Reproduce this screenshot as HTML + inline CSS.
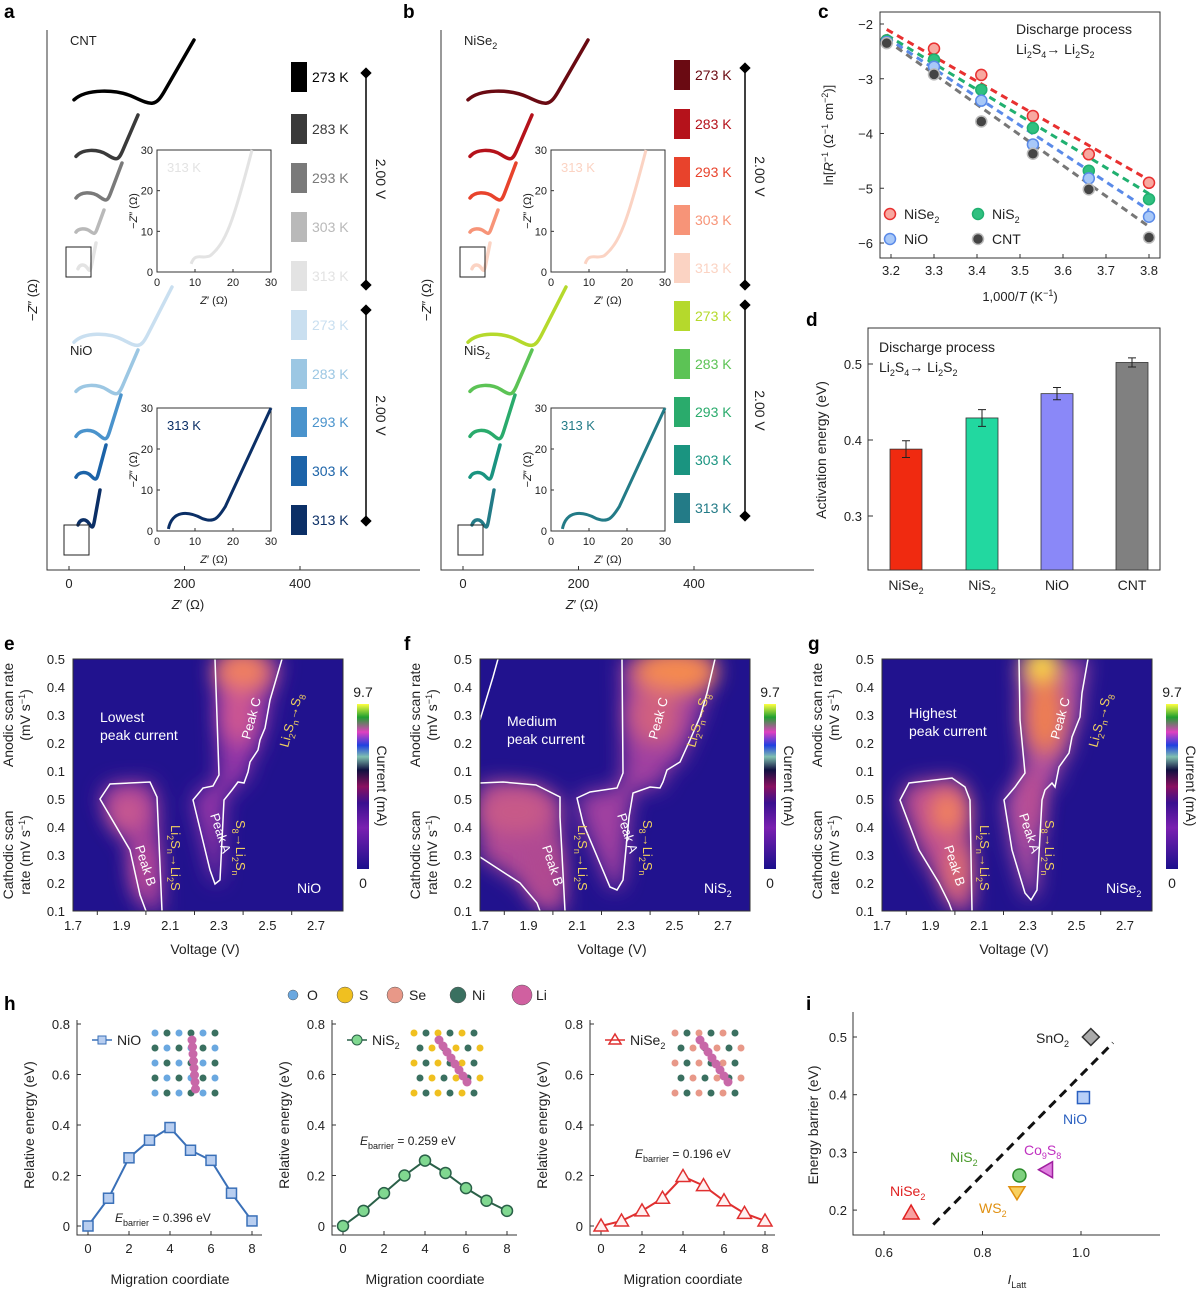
<!DOCTYPE html>
<html><head><meta charset="utf-8"><style>
body{margin:0;background:#fff}
svg{font-family:"Liberation Sans",sans-serif;display:block}
text{fill:#222}
.t{font-size:13px}
.s{font-size:11px}
.L{font-size:19px;font-weight:bold;fill:#000}
.ax{stroke:#333;stroke-width:1;fill:none}
</style></head><body>
<svg id="fig" width="1200" height="1292" viewBox="0 0 1200 1292">
<defs>
<filter id="bl" x="-50%" y="-50%" width="200%" height="200%"><feGaussianBlur stdDeviation="10"/></filter>
<filter id="bl2" x="-50%" y="-50%" width="200%" height="200%"><feGaussianBlur stdDeviation="5"/></filter>
<clipPath id="ce"><rect x="73" y="659" width="270" height="252"/></clipPath>
<clipPath id="cf"><rect x="480" y="659" width="270" height="252"/></clipPath>
<clipPath id="cg"><rect x="882" y="659" width="270" height="252"/></clipPath>
<linearGradient id="cb" x1="0" y1="1" x2="0" y2="0">
<stop offset="0" stop-color="#1a0f8c"/><stop offset="0.25" stop-color="#7a20b0"/><stop offset="0.4" stop-color="#3a1090"/><stop offset="0.5" stop-color="#8a1060"/><stop offset="0.6" stop-color="#101040"/><stop offset="0.68" stop-color="#80c0b0"/><stop offset="0.75" stop-color="#2040e0"/><stop offset="0.83" stop-color="#e040c0"/><stop offset="0.92" stop-color="#20a030"/><stop offset="1" stop-color="#ffff40"/></linearGradient>
</defs>
<g id="root"></g>
</svg>
<script>
// ---------- data ----------
const temps=["273 K","283 K","293 K","303 K","313 K"];
const cVals=[3.19,3.3,3.41,3.53,3.66,3.8];
const cNiSe2=[-2.3,-2.45,-2.93,-3.68,-4.38,-4.9];
const cNiS2=[-2.3,-2.65,-3.2,-3.9,-4.68,-5.2];
const cNiO=[-2.33,-2.78,-3.4,-4.2,-4.82,-5.52];
const cCNT=[-2.35,-2.92,-3.78,-4.37,-5.02,-5.9];
const cFitStart=[-2.1,-2.2,-2.25,-2.3];
const cFitEnd=[-4.85,-5.1,-5.4,-5.7];
const dCats=["NiSe2","NiS2","NiO","CNT"];
const dVals=[0.388,0.429,0.461,0.502];
const dErr=[0.011,0.011,0.008,0.006];
const hX=[0,1,2,3,4,5,6,7,8];
const hNiO=[0,0.11,0.27,0.34,0.39,0.30,0.26,0.13,0.02];
const hNiS2=[0,0.06,0.13,0.2,0.259,0.21,0.15,0.1,0.06];
const hNiSe2=[0,0.02,0.06,0.11,0.196,0.16,0.1,0.05,0.02];
const iNames=["SnO2","NiO","Co9S8","NiS2","WS2","NiSe2"];
const iX=[1.02,1.005,0.93,0.875,0.87,0.655];
const iY=[0.5,0.395,0.27,0.26,0.23,0.195];

const NS="http://www.w3.org/2000/svg";
const root=document.getElementById('root');
function mk(tag,a,p){const e=document.createElementNS(NS,tag);for(const k in a)e.setAttribute(k,a[k]);(p||root).appendChild(e);return e;}
function tx(x,y,s,cls,extra){const e=mk('text',Object.assign({x:x,y:y,class:cls||'t'},extra||{}));e.innerHTML=s;return e;}

[["a",4,18],["b",403,18],["c",818,18],["d",806,326],["e",4,650],["f",404,650],["g",808,650],["h",4,1010],["i",806,1010]].forEach(p=>{const t=tx(p[1],p[2],p[0],'L');});

// ---------- panels a & b ----------
function nyq(ox,name1,name2,cols1,cols2,labX,lineX,diam,barYs,lab1,lab2){
  mk('path',{d:`M${ox} 30V570H${ox+373}`,class:'ax'});
  [0,200,400].forEach((v,i)=>{const x=ox+22+i*115.5;mk('line',{x1:x,x2:x,y1:570,y2:566,class:'ax'});tx(x,588,v,'t',{'text-anchor':'middle'});});
  const xl=tx(ox+141,609,"<tspan font-style='italic'>Z</tspan>′ (Ω)",'t',{'text-anchor':'middle'});
  
  const yl=tx(0,0,"−<tspan font-style='italic'>Z</tspan>″ (Ω)",'t',{'text-anchor':'middle',transform:`translate(${ox-10},300) rotate(-90)`});
  
  tx(ox+23,45,lab1);tx(ox+23,355,lab2);
  const boxes1=[[ox+27,40,120,65],[ox+29,115,62,45],[ox+29,163,46,38],[ox+29,210,28,24],[ox+31,243,18,28]];
  const boxes2=[[ox+27,287,98,60],[ox+29,350,62,45],[ox+29,395,45,45],[ox+29,445,30,35],[ox+31,490,22,38]];
  function curve(b,c){const [x,y,w,h]=b;const d=`M${x} ${y+h*0.92} C${x+w*0.1} ${y+h*0.75},${x+w*0.35} ${y+h*0.75},${x+w*0.5} ${y+h*0.88} S${x+w*0.68} ${y+h*1.02},${x+w*0.75} ${y+h*0.8} L${x+w} ${y}`;
    const p=mk('path',{d:d,stroke:c,'stroke-width':3.5,fill:'none','stroke-linecap':'round'});return p;}
  boxes1.forEach((b,i)=>{const p=curve(b,cols1[i]);});
  boxes2.forEach((b,i)=>{const p=curve(b,cols2[i]);});
  mk('rect',{x:ox+19,y:247,width:25,height:30,fill:'none',stroke:'#222'});
  mk('rect',{x:ox+17,y:525,width:25,height:30,fill:'none',stroke:'#222'});
  [[150,272,cols1[4],1],[408,531,cols2[4],2]].forEach(ins=>{
    const x0=ox+110,x1=ox+224,y0=ins[0],y1=ins[1];
    mk('rect',{x:x0,y:y0,width:x1-x0,height:y1-y0,fill:'#fff',stroke:'#333'});
    [0,10,20,30].forEach(v=>{const x=x0+v/30*(x1-x0);tx(x,y1+14,v,'s',{'text-anchor':'middle'});mk('line',{x1:x,x2:x,y1:y1,y2:y1-3,class:'ax'});
      const y=y1-v/30*(y1-y0);tx(x0-4,y+4,v,'s',{'text-anchor':'end'});mk('line',{x1:x0,x2:x0+3,y1:y,y2:y,class:'ax'});});
    tx((x0+x1)/2,y1+32,"<tspan font-style='italic'>Z</tspan>′ (Ω)",'s',{'text-anchor':'middle'});
    tx(0,0,"−<tspan font-style='italic'>Z</tspan>″ (Ω)",'s',{'text-anchor':'middle',transform:`translate(${x0-20},${(y0+y1)/2}) rotate(-90)`});
    tx(x0+10,y0+22,'313 K','t',{style:'fill:'+ins[2]});
    const X=v=>x0+v/30*(x1-x0),Y=v=>y1-v/30*(y1-y0);
    const d = ins[3]==1 ? `M${X(9)} ${Y(2)} C${X(10)} ${Y(5)},${X(12)} ${Y(3)},${X(14)} ${Y(4)} C${X(18)} ${Y(7)},${X(20)} ${Y(12)},${X(25)} ${Y(30)}`
                        : `M${X(3)} ${Y(0.5)} C${X(4)} ${Y(5)},${X(8)} ${Y(5)},${X(12)} ${Y(3)} C${X(15)} ${Y(2)},${X(16)} ${Y(3)},${X(18)} ${Y(6)} L${X(30)} ${Y(30)}`;
    const p=mk('path',{d:d,stroke:ins[2],'stroke-width':3,fill:'none'});
    
  });
  const allc=cols1.concat(cols2);
  barYs.forEach((y,i)=>{const r=mk('rect',{x:labX,y:y-15,width:16,height:30,fill:allc[i]});
    
    tx(labX+21,y+5,temps[i%5],'t',{style:'font-size:14px;fill:'+allc[i]});});
  mk('line',{x1:lineX,x2:lineX,y1:diam[0],y2:diam[1],stroke:'#000','stroke-width':1.5});
  mk('line',{x1:lineX,x2:lineX,y1:diam[2],y2:diam[3],stroke:'#000','stroke-width':1.5});
  diam.forEach(y=>mk('rect',{x:lineX-4,y:y-4,width:8,height:8,fill:'#000',transform:`rotate(45 ${lineX} ${y})`}));
  tx(0,0,'2.00 V','t',{'text-anchor':'middle',style:'font-size:14px',transform:`translate(${lineX+10},${(diam[0]+diam[1])/2}) rotate(90)`});
  tx(0,0,'2.00 V','t',{'text-anchor':'middle',style:'font-size:14px',transform:`translate(${lineX+10},${(diam[2]+diam[3])/2}) rotate(90)`});
}
nyq(47,'CNT','NiO',['#000','#3a3a3a','#7a7a7a','#b9b9b9','#e3e3e3'],['#c9dff0','#9cc7e3','#4a93cc','#1c63a8','#0b2f66'],
  291,366,[73,285,310,521],[77,129,178,227,276,325,374,422,471,520],'CNT','NiO');
nyq(441,'NiSe2','NiS2',['#6a0a12','#b5121b','#e8432c','#f79478','#fbd3c3'],['#b5d92c','#5cc355','#2aab6c','#1a9480','#237b87'],
  674,745,[68,285,305,516],[75,124,172,220,268,316,364,412,460,508],'NiSe<tspan font-size="9" dy="4">2</tspan>','NiS<tspan font-size="9" dy="4">2</tspan>');

// ---------- panel c ----------
(function(){
  const X=v=>891+(v-3.2)*430, Y=v=>24+(-2-v)*54.75;
  mk('rect',{x:880,y:12,width:280,height:246,class:'ax'});
  [3.2,3.3,3.4,3.5,3.6,3.7,3.8].forEach(v=>{mk('line',{x1:X(v),x2:X(v),y1:258,y2:254,class:'ax'});tx(X(v),275,v.toFixed(1),'t',{'text-anchor':'middle'});});
  [-2,-3,-4,-5,-6].forEach(v=>{mk('line',{x1:880,x2:884,y1:Y(v),y2:Y(v),class:'ax'});tx(873,Y(v)+5,'−'+(-v),'t',{'text-anchor':'end'});});
  tx(1020,301,'1,000/<tspan font-style="italic">T</tspan> (K<tspan font-size="9" dy="-5">−1</tspan><tspan dy="5">)</tspan>','t',{'text-anchor':'middle'});
  tx(0,0,'ln[<tspan font-style="italic">R</tspan><tspan font-size="9" dy="-5">−1</tspan><tspan dy="5"> (Ω</tspan><tspan font-size="9" dy="-5">−1</tspan><tspan dy="5"> cm</tspan><tspan font-size="9" dy="-5">−2</tspan><tspan dy="5">)]</tspan>','t',{'text-anchor':'middle',transform:'translate(833,135) rotate(-90)'});
  tx(1016,34,'Discharge process','t',{style:'font-size:14px'});
  tx(1016,54,'Li<tspan font-size="9" dy="4">2</tspan><tspan dy="-4">S</tspan><tspan font-size="9" dy="4">4</tspan><tspan dy="-4">→ Li</tspan><tspan font-size="9" dy="4">2</tspan><tspan dy="-4">S</tspan><tspan font-size="9" dy="4">2</tspan>','t',{style:'font-size:14px'});
  const series=[[cNiSe2,'#f8a8a0','#e83030','NiSe2'],[cNiS2,'#30c080','#20b070','NiS2'],[cNiO,'#a8c8f8','#5a8ae8','NiO'],[cCNT,'#444','#777','CNT']];
  series.forEach((s,k)=>{
    const l=mk('line',{x1:X(3.19),y1:Y(cFitStart[k]),x2:X(3.8),y2:Y(cFitEnd[k]),stroke:s[2],'stroke-width':3,'stroke-dasharray':'7 5'});
    
  });
  series.forEach((s,k)=>{cVals.forEach((v,i)=>{const c=mk('circle',{cx:X(v),cy:Y(s[0][i]),r:5.5,fill:s[1],stroke:k==3?'#bbb':s[2],'stroke-width':1.5});
    });});
  const leg=[[890,214,'#f8a8a0','#e83030','NiSe<tspan font-size="9" dy="4">2</tspan>'],[978,214,'#30c080','#20b070','NiS<tspan font-size="9" dy="4">2</tspan>'],[890,239,'#a8c8f8','#5a8ae8','NiO'],[978,239,'#444','#bbb','CNT']];
  leg.forEach(l=>{const c=mk('circle',{cx:l[0],cy:l[1],r:5.5,fill:l[2],stroke:l[3],'stroke-width':1.5});tx(l[0]+14,l[1]+5,l[4],'t',{style:'font-size:14px'});});
})();

// ---------- panel d ----------
(function(){
  const Y=v=>364+(0.5-v)*760, cx=[906,982,1057,1132], cols=['#f02a10','#22d8a0','#8a88f8','#808080'];
  mk('path',{d:'M868 328V570H1160V328Z',class:'ax'});
  [0.3,0.4,0.5].forEach(v=>{mk('line',{x1:868,x2:873,y1:Y(v),y2:Y(v),class:'ax'});tx(862,Y(v)+5,v.toFixed(1),'t',{'text-anchor':'end'});});
  tx(0,0,'Activation energy (eV)','t',{'text-anchor':'middle',transform:'translate(826,450) rotate(-90)',style:'font-size:14px'});
  tx(879,352,'Discharge process','t',{style:'font-size:14px'});
  tx(879,372,'Li<tspan font-size="9" dy="4">2</tspan><tspan dy="-4">S</tspan><tspan font-size="9" dy="4">4</tspan><tspan dy="-4">→ Li</tspan><tspan font-size="9" dy="4">2</tspan><tspan dy="-4">S</tspan><tspan font-size="9" dy="4">2</tspan>','t',{style:'font-size:14px'});
  const labs=['NiSe<tspan font-size="9" dy="4">2</tspan>','NiS<tspan font-size="9" dy="4">2</tspan>','NiO','CNT'];
  dVals.forEach((v,i)=>{
    const r=mk('rect',{x:cx[i]-16,y:Y(v),width:32,height:570-Y(v),fill:cols[i],stroke:'#333','stroke-width':0.8});
    
    mk('path',{d:`M${cx[i]} ${Y(v+dErr[i])}V${Y(v-dErr[i])}M${cx[i]-4} ${Y(v+dErr[i])}h8M${cx[i]-4} ${Y(v-dErr[i])}h8`,stroke:'#222','stroke-width':1,fill:'none'});
    tx(cx[i],590,labs[i],'t',{'text-anchor':'middle',style:'font-size:14px'});
  });
})();

// ---------- panels e f g ----------
function pts(a){return a.map(p=>p.join(',')).join(' ');}
function heat(ox,clip,polys,blobs,name,contours,labelTop,labelPos){
  const g=mk('g',{'clip-path':`url(#${clip})`});
  
  mk('rect',{x:ox,y:659,width:270,height:252,fill:'#21128e'},g);
  const gp=mk('g',{filter:'url(#bl)',transform:`translate(${ox},0)`},g);
  polys.forEach(p=>mk('polygon',{points:pts(p[0]),fill:p[1]},gp));
  const gb=mk('g',{filter:'url(#bl)',transform:`translate(${ox},0)`},g);
  blobs.forEach(b=>mk('ellipse',{cx:b[0],cy:b[1],rx:b[2],ry:b[3],fill:b[4]},gb));
  contours.forEach(c=>mk('polyline',{points:pts(c),stroke:'#fff','stroke-width':1.5,fill:'none',transform:`translate(${ox},0)`},g));
  mk('rect',{x:ox,y:659,width:270,height:252,fill:'none',stroke:'#333'});
  [0.5,0.4,0.3,0.2,0.1].forEach((v,i)=>{tx(ox-8,664+i*28,v.toFixed(1),'t',{'text-anchor':'end'});tx(ox-8,804+i*28,v.toFixed(1),'t',{'text-anchor':'end'});});
  [1.7,1.9,2.1,2.3,2.5,2.7].forEach(v=>{const x=ox+(v-1.7)*243;tx(x,930,v.toFixed(1),'t',{'text-anchor':'middle'});});
  [1.8,2.0,2.2,2.4,2.6].forEach(v=>{const x=ox+(v-1.7)*243;mk('line',{x1:x,x2:x,y1:911,y2:915,class:'ax'});});
  tx(ox+132,954,'Voltage (V)','t',{'text-anchor':'middle',style:'font-size:14px'});
  tx(0,0,'Anodic scan rate','t',{'text-anchor':'middle',style:'font-size:14px',transform:`translate(${ox-60},715) rotate(-90)`});
  tx(0,0,'(mV s<tspan font-size="9" dy="-5">−1</tspan><tspan dy="5">)</tspan>','t',{'text-anchor':'middle',style:'font-size:14px',transform:`translate(${ox-43},715) rotate(-90)`});
  tx(0,0,'Cathodic scan','t',{'text-anchor':'middle',style:'font-size:14px',transform:`translate(${ox-60},855) rotate(-90)`});
  tx(0,0,'rate (mV s<tspan font-size="9" dy="-5">−1</tspan><tspan dy="5">)</tspan>','t',{'text-anchor':'middle',style:'font-size:14px',transform:`translate(${ox-43},855) rotate(-90)`});
  tx(ox+27,labelPos,labelTop[0],'t',{style:'font-size:14px;fill:#fff'});
  tx(ox+27,labelPos+18,labelTop[1],'t',{style:'font-size:14px;fill:#fff'});
  tx(ox+224,893,name,'t',{style:'font-size:14px;fill:#fff'});
  const yel='fill:#f0d060;font-size:13px';
  tx(0,0,'Peak C','t',{style:'fill:#fff;font-size:13px',transform:`translate(${ox+177},740) rotate(-75)`});
  tx(0,0,'Li<tspan font-size="9" dy="4">2</tspan><tspan dy="-4">S</tspan><tspan font-size="9" dy="4">n</tspan><tspan dy="-4">→S</tspan><tspan font-size="9" dy="4">8</tspan>','t',{style:yel,transform:`translate(${ox+215},748) rotate(-75)`});
  tx(0,0,'Peak B','t',{style:'fill:#fff;font-size:13px',transform:`translate(${ox+62},847) rotate(72)`});
  tx(0,0,'Li<tspan font-size="9" dy="4">2</tspan><tspan dy="-4">S</tspan><tspan font-size="9" dy="4">n</tspan><tspan dy="-4">→Li</tspan><tspan font-size="9" dy="4">2</tspan><tspan dy="-4">S</tspan>','t',{style:yel,transform:`translate(${ox+98},825) rotate(90)`});
  tx(0,0,'Peak A','t',{style:'fill:#fff;font-size:13px',transform:`translate(${ox+137},815) rotate(72)`});
  tx(0,0,'S<tspan font-size="9" dy="4">8</tspan><tspan dy="-4">→Li</tspan><tspan font-size="9" dy="4">2</tspan><tspan dy="-4">S</tspan><tspan font-size="9" dy="4">n</tspan>','t',{style:yel,transform:`translate(${ox+163},820) rotate(90)`});
  const cb=mk('rect',{x:ox+284,y:704,width:12,height:165,fill:'url(#cb)'});
  
  tx(ox+290,697,'9.7','t',{'text-anchor':'middle',style:'font-size:14px'});
  tx(ox+290,888,'0','t',{'text-anchor':'middle',style:'font-size:14px'});
  tx(0,0,'Current (mA)','t',{'text-anchor':'middle',style:'font-size:14px',transform:`translate(${ox+304},786) rotate(90)`});
}
// e NiO
const eCA=[[142,659],[146,775],[140,786],[130,788],[120,800],[137,870],[142,884],[147,880],[151,800],[159,790],[165,782],[171,783],[175,772],[177,762],[185,750],[187,740],[192,728],[197,700],[209,659]];
const eB1=[[89,911],[84,797],[77,782],[37,784],[27,799],[57,850],[67,895],[73,911]];
heat(73,'ce',[[eCA,'#9838a8'],[eB1,'#a03c9c']],
  [[170,672,28,22,'#f08060'],[165,715,16,30,'#d05890'],[55,812,20,20,'#c85890'],[70,870,12,30,'#b84898']],
  'NiO',[eCA,eB1],['Lowest','peak current'],722);
// f NiS2
const fCA=[[142,659],[143,773],[137,788],[110,792],[97,798],[103,823],[130,887],[137,890],[143,880],[149,817],[153,793],[170,787],[180,788],[183,782],[187,770],[200,762],[210,740],[220,717],[227,693],[235,659]];
const fB=[[85,911],[80,817],[80,797],[56,785],[23,782],[0,783]];
const fL=[[0,857],[20,870],[40,883],[57,903],[60,911]];
const fT=[[18,659],[13,677],[3,710],[0,720]];
heat(480,'cf',[[fCA,'#a040a0'],[[[0,783],[23,782],[56,785],[80,797],[85,911],[60,911],[40,883],[0,857]],'#b04894']],
  [[195,672,42,22,'#f58a50'],[175,715,25,30,'#d06080'],[35,812,35,22,'#c85a88'],[65,870,15,30,'#b04890']],
  'NiS<tspan font-size="9" dy="4">2</tspan>',[fCA,fB,fL,fT],['Medium','peak current'],726);
// g NiSe2
const gCA=[[137,659],[138,720],[143,773],[133,787],[122,800],[130,850],[143,893],[149,900],[155,890],[160,800],[163,790],[170,783],[173,787],[177,767],[187,753],[190,737],[198,717],[200,693],[206,659]];
const gB=[[90,911],[88,800],[83,787],[70,778],[27,783],[18,800],[37,850],[57,883],[67,903],[70,911]];
heat(882,'cg',[[gCA,'#b050a0'],[gB,'#c05090']],
  [[160,668,18,18,'#ffe040'],[163,715,18,40,'#f08050'],[150,800,10,35,'#c05090'],[65,812,18,22,'#f08060'],[75,870,12,28,'#e07070']],
  'NiSe<tspan font-size="9" dy="4">2</tspan>',[gCA,gB],['Highest','peak current'],718);

// ---------- panel h ----------
const atomLeg=[[293,'#6aa8e0','O'],[345,'#f0c020','S'],[395,'#e89888','Se'],[458,'#3a7060','Ni'],[522,'#d060a0','Li']];
atomLeg.forEach(a=>{mk('circle',{cx:a[0],cy:995,r:a[2]=='Li'?10:(a[2]=='O'?5:8),fill:a[1],stroke:'#555','stroke-width':0.5});tx(a[0]+14,1000,a[2],'t',{style:'font-size:14px'});});
function hplot(ox,vals,color,fill,shape,name,eb,ebx,eby,struct){
  const X=v=>ox+11+v*20.5, Y=v=>1226-v*252.5;
  mk('path',{d:`M${ox} 1020V1235H${ox+185}`,class:'ax'});
  [0,2,4,6,8].forEach(v=>{mk('line',{x1:X(v),x2:X(v),y1:1235,y2:1231,class:'ax'});tx(X(v),1253,v,'t',{'text-anchor':'middle'});});
  [0,0.2,0.4,0.6,0.8].forEach(v=>{mk('line',{x1:ox,x2:ox+4,y1:Y(v),y2:Y(v),class:'ax'});tx(ox-7,Y(v)+5,v==0?'0':v.toFixed(1),'t',{'text-anchor':'end'});});
  tx(ox+93,1284,'Migration coordiate','t',{'text-anchor':'middle',style:'font-size:14px'});
  tx(0,0,'Relative energy (eV)','t',{'text-anchor':'middle',style:'font-size:14px',transform:`translate(${ox-43},1125) rotate(-90)`});
  const sg=mk('g',{});
  
  for(let i=0;i<6;i++)for(let j=0;j<5;j++){mk('circle',{cx:ox+struct[0]+i*12+(struct[2]?(j%2)*6:0),cy:1033+j*15,r:3.5,fill:(i+j)%2?struct[1][0]:struct[1][1]},sg);}
  for(let k=0;k<8;k++)mk('circle',{cx:ox+struct[0]+25+k*(struct[2]?4:0.5)+(struct[2]?0:12),cy:1040+k*(struct[2]?6:7),r:4.5,fill:'#c868a8'},sg);
  const ln=mk('polyline',{points:vals.map((v,i)=>X(hX[i])+','+Y(v)).join(' '),stroke:color,'stroke-width':2,fill:'none'});
  
  vals.forEach((v,i)=>{const x=X(hX[i]),y=Y(v);let m;
    if(shape=='s')m=mk('rect',{x:x-5,y:y-5,width:10,height:10,fill:fill,stroke:color,'stroke-width':1.5});
    else if(shape=='c')m=mk('circle',{cx:x,cy:y,r:5.5,fill:fill,stroke:color,'stroke-width':1.5});
    else m=mk('path',{d:`M${x} ${y-7}L${x+7} ${y+5}L${x-7} ${y+5}Z`,fill:fill,stroke:color,'stroke-width':1.5});
    });
  mk('line',{x1:ox+15,x2:ox+35,y1:1040,y2:1040,stroke:color,'stroke-width':1.5});
  if(shape=='s')mk('rect',{x:ox+21,y:1036,width:8,height:8,fill:fill,stroke:color});
  else if(shape=='c')mk('circle',{cx:ox+25,cy:1040,r:5,fill:fill,stroke:color});
  else mk('path',{d:`M${ox+25} 1034L${ox+31} 1044L${ox+19} 1044Z`,fill:'none',stroke:color,'stroke-width':1.5});
  tx(ox+40,1045,name,'t',{style:'font-size:14px'});
  tx(ebx,eby,'<tspan font-style="italic">E</tspan><tspan font-size="9" dy="4">barrier</tspan><tspan dy="-4"> = '+eb+' eV</tspan>','s',{style:'font-size:12px'});
}
hplot(77,hNiO,'#3a70b8','#b8cef0','s','NiO','0.396',115,1222,[78,['#3a7060','#6aa8e0'],false]);
hplot(332,hNiS2,'#2a6048','#80d890','c','NiS<tspan font-size="9" dy="4">2</tspan>','0.259',360,1145,[82,['#3a7060','#f0c020'],true]);
hplot(590,hNiSe2,'#e03030','#fff0f0','t','NiSe<tspan font-size="9" dy="4">2</tspan>','0.196',635,1158,[85,['#3a7060','#e89888'],true]);

// ---------- panel i ----------
(function(){
  const X=v=>884+(v-0.6)*492.5, Y=v=>1037+(0.5-v)*577;
  mk('path',{d:'M853 1012V1235H1160',class:'ax'});
  [0.6,0.8,1.0].forEach(v=>{mk('line',{x1:X(v),x2:X(v),y1:1235,y2:1231,class:'ax'});tx(X(v),1257,v.toFixed(1),'t',{'text-anchor':'middle'});});
  [0.2,0.3,0.4,0.5].forEach(v=>{mk('line',{x1:853,x2:857,y1:Y(v),y2:Y(v),class:'ax'});tx(847,Y(v)+5,v.toFixed(1),'t',{'text-anchor':'end'});});
  tx(1017,1284,'<tspan font-style="italic">I</tspan><tspan font-size="9" dy="4">Latt</tspan>','t',{'text-anchor':'middle'});
  tx(0,0,'Energy barrier (eV)','t',{'text-anchor':'middle',style:'font-size:14px',transform:'translate(818,1125) rotate(-90)'});
  const fl=mk('line',{x1:X(0.7),y1:Y(0.175),x2:X(1.065),y2:Y(0.49),stroke:'#111','stroke-width':3,'stroke-dasharray':'9 6'});
  
  const st=[['#aaa','#333','d'],['#b8d0f8','#2a60c0','s'],['#e080e0','#a020a0','l'],['#7ed07e','#2a8a2a','c'],['#f8d060','#e09010','v'],['#f8a0a0','#e02020','u']];
  const lab=[[1036,1043,'SnO<tspan font-size="9" dy="4">2</tspan>','#222'],[1063,1124,'NiO','#2a60c0'],[1024,1155,'Co<tspan font-size="9" dy="4">9</tspan><tspan dy="-4">S</tspan><tspan font-size="9" dy="4">8</tspan>','#c030c0'],[950,1162,'NiS<tspan font-size="9" dy="4">2</tspan>','#4a9a2a'],[979,1213,'WS<tspan font-size="9" dy="4">2</tspan>','#e09010'],[890,1196,'NiSe<tspan font-size="9" dy="4">2</tspan>','#e02020']];
  iX.forEach((v,i)=>{const x=X(v),y=Y(iY[i]),s=st[i];let m;
    if(s[2]=='d')m=mk('rect',{x:x-6,y:y-6,width:12,height:12,fill:s[0],stroke:s[1],'stroke-width':1.5,transform:`rotate(45 ${x} ${y})`});
    else if(s[2]=='s')m=mk('rect',{x:x-6,y:y-6,width:12,height:12,fill:s[0],stroke:s[1],'stroke-width':1.5});
    else if(s[2]=='c')m=mk('circle',{cx:x,cy:y,r:6.5,fill:s[0],stroke:s[1],'stroke-width':1.5});
    else if(s[2]=='l')m=mk('path',{d:`M${x-8} ${y}L${x+6} ${y-8}L${x+6} ${y+8}Z`,fill:s[0],stroke:s[1],'stroke-width':1.5});
    else if(s[2]=='v')m=mk('path',{d:`M${x-8} ${y-6}L${x+8} ${y-6}L${x} ${y+7}Z`,fill:s[0],stroke:s[1],'stroke-width':1.5});
    else m=mk('path',{d:`M${x} ${y-8}L${x+8} ${y+6}L${x-8} ${y+6}Z`,fill:s[0],stroke:s[1],'stroke-width':1.5});
    
    tx(lab[i][0],lab[i][1],lab[i][2],'t',{style:'font-size:14px;fill:'+lab[i][3]});
  });
})();
</script>
</body></html>
